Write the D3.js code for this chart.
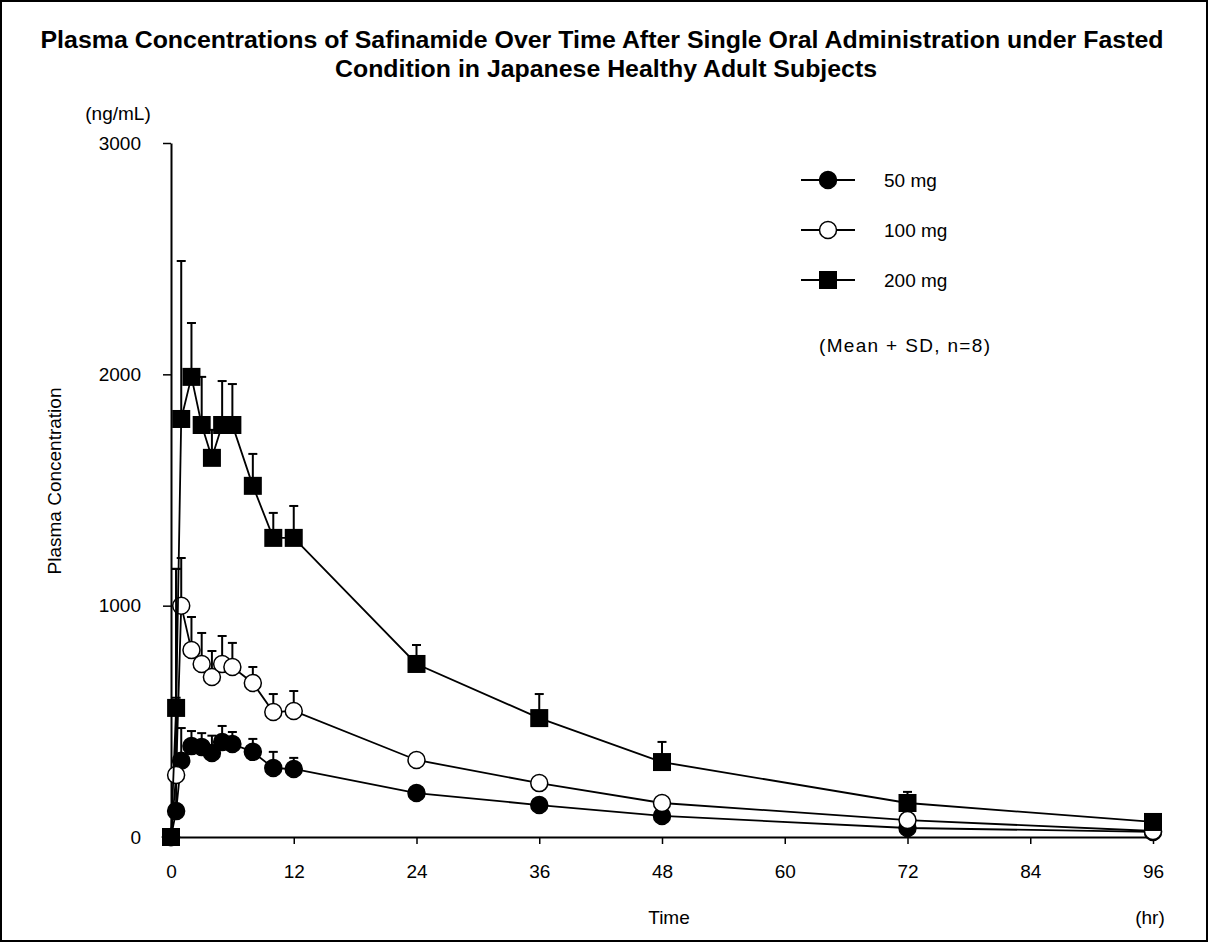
<!DOCTYPE html>
<html>
<head>
<meta charset="utf-8">
<script src="https://cdn.jsdelivr.net/npm/d3@7"></script>
<style>
  body { margin: 0; background: #fff; }
  svg text { font-family: "Liberation Sans", Arial, sans-serif; fill: #000; }
</style>
</head>
<body>
<div id="chart"></div>
<script>
// sampling times (hr)
const times = [0, 0.5, 1, 2, 3, 4, 5, 6, 8, 10, 12, 24, 36, 48, 72, 96];

// mean and SD, ng/mL
const mean50 = [0, 112, 330, 393, 389, 363, 411, 402, 368, 298, 294, 190, 138, 91, 39, 22];
const sd50 = [0, 490, 141, 65, 60, 75, 69, 52, 56, 70, 48, 20, 12, 9, 6, 3];
const mean100 = [0, 268, 1000, 808, 748, 692, 748, 735, 666, 540, 545, 333, 233, 147, 73, 26];
const sd100 = [0, 891, 206, 143, 134, 112, 121, 104, 69, 78, 86, 17, 12, 8, 7, 4];
const mean200 = [0, 558, 1807, 1989, 1781, 1639, 1781, 1781, 1518, 1293, 1293, 748, 514, 324, 147, 65];
const sd200 = [0, 601, 683, 233, 208, 121, 190, 177, 138, 108, 138, 82, 104, 87, 48, 7];

const doses = ["50 mg", "100 mg", "200 mg"];
const xTicks = [0, 12, 24, 36, 48, 60, 72, 84, 96];
const yTicks = [0, 1000, 2000, 3000];

const width = 1208, height = 942;
const fs = "19px";

const svg = d3.select("#chart").append("svg")
  .attr("width", width)
  .attr("height", height);

// frame
svg.append("rect")
  .attr("x", 1).attr("y", 1)
  .attr("width", width - 2).attr("height", height - 2)
  .attr("fill", "none").attr("stroke", "#000").attr("stroke-width", 2);

// title
svg.append("text")
  .attr("x", 602).attr("y", 48)
  .attr("text-anchor", "middle")
  .attr("textLength", 1123).attr("lengthAdjust", "spacingAndGlyphs")
  .style("font-size", "23px").style("font-weight", "bold")
  .text("Plasma Concentrations of Safinamide Over Time After Single Oral Administration under Fasted");
svg.append("text")
  .attr("x", 606).attr("y", 77)
  .attr("text-anchor", "middle")
  .attr("textLength", 542).attr("lengthAdjust", "spacingAndGlyphs")
  .style("font-size", "23px").style("font-weight", "bold")
  .text("Condition in Japanese Healthy Adult Subjects");

const x = d3.scaleLinear().domain([0, 96]).range([171, 1153]);
const y = d3.scaleLinear().domain([0, 3000]).range([837, 143]);

// axes
const xAxis = svg.append("g")
  .attr("transform", "translate(0," + y(0) + ")")
  .call(d3.axisBottom(x).tickValues(xTicks).tickSize(7).tickSizeOuter(0).tickPadding(21));
const yAxis = svg.append("g")
  .attr("transform", "translate(" + x(0) + ",0)")
  .call(d3.axisLeft(y).tickValues(yTicks).tickFormat(d3.format("d"))
    .tickSize(8).tickSizeOuter(0).tickPadding(22));

[xAxis, yAxis].forEach(g => {
  g.select(".domain").attr("stroke-width", 2);
  g.selectAll(".tick line").attr("stroke-width", 1.5);
  g.selectAll("text").style("font-size", fs).style("font-family", "'Liberation Sans', Arial, sans-serif");
});

// axis titles
svg.append("text").attr("x", 118).attr("y", 120).attr("text-anchor", "middle")
  .style("font-size", fs).text("(ng/mL)");
svg.append("text")
  .attr("transform", "translate(61,481) rotate(-90)")
  .attr("text-anchor", "middle")
  .style("font-size", fs).text("Plasma Concentration");
svg.append("text").attr("x", 669).attr("y", 924).attr("text-anchor", "middle")
  .style("font-size", fs).text("Time");
svg.append("text").attr("x", 1150).attr("y", 924).attr("text-anchor", "middle")
  .style("font-size", fs).text("(hr)");

const series = [
  { name: doses[0], mean: mean50, sd: sd50, shape: "circle", fill: "#000" },
  { name: doses[1], mean: mean100, sd: sd100, shape: "circle", fill: "#fff" },
  { name: doses[2], mean: mean200, sd: sd200, shape: "square", fill: "#000" }
];

const line = d3.line()
  .x(d => x(d.t))
  .y(d => y(d.v));

function drawMarker(g, shape, fill) {
  if (shape === "circle") {
    g.append("circle").attr("r", 8.5)
      .attr("fill", fill).attr("stroke", "#000").attr("stroke-width", 1.5);
  } else {
    g.append("rect").attr("x", -9).attr("y", -9).attr("width", 18).attr("height", 18)
      .attr("fill", fill);
  }
}

series.forEach(s => {
  const pts = times.map((t, i) => ({ t: t, v: s.mean[i], sd: s.sd[i] }));
  const g = svg.append("g");

  g.append("path")
    .attr("d", line(pts))
    .attr("fill", "none").attr("stroke", "#000").attr("stroke-width", 1.8);

  // error bars (mean + SD only)
  const eb = g.selectAll(".eb").data(pts.filter(d => d.sd > 0)).enter().append("g");
  eb.append("line")
    .attr("x1", d => x(d.t)).attr("x2", d => x(d.t))
    .attr("y1", d => y(d.v)).attr("y2", d => y(d.v + d.sd))
    .attr("stroke", "#000").attr("stroke-width", 2);
  eb.append("line")
    .attr("x1", d => x(d.t) - 4.5).attr("x2", d => x(d.t) + 4.5)
    .attr("y1", d => y(d.v + d.sd)).attr("y2", d => y(d.v + d.sd))
    .attr("stroke", "#000").attr("stroke-width", 2);

  g.selectAll(".mk").data(pts).enter().append("g")
    .attr("transform", d => "translate(" + x(d.t) + "," + y(d.v) + ")")
    .each(function () { drawMarker(d3.select(this), s.shape, s.fill); });
});

// legend
const legend = svg.append("g");
series.forEach((s, i) => {
  const ly = 180 + i * 50;
  legend.append("line").attr("x1", 801).attr("x2", 855).attr("y1", ly).attr("y2", ly)
    .attr("stroke", "#000").attr("stroke-width", 1.8);
  const mg = legend.append("g").attr("transform", "translate(828," + ly + ")");
  drawMarker(mg, s.shape, s.fill);
  legend.append("text").attr("x", 884).attr("y", ly + 7)
    .style("font-size", fs).text(s.name);
});
legend.append("text").attr("x", 819).attr("y", 352)
  .attr("textLength", 171).attr("lengthAdjust", "spacing")
  .style("font-size", fs).text("(Mean + SD, n=8)");
</script>
</body>
</html>
